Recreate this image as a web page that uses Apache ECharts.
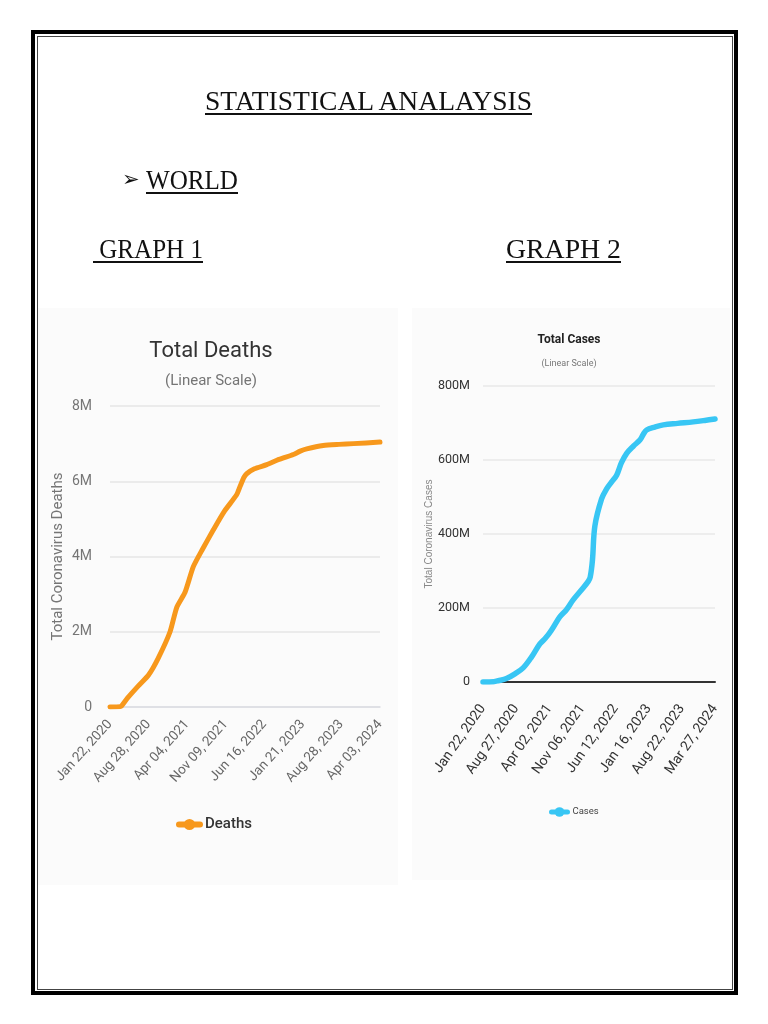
<!DOCTYPE html>
<html>
<head>
<meta charset="utf-8">
<script src="https://cdn.jsdelivr.net/npm/echarts@6/dist/echarts.min.js"></script>
<style>
  html, body { margin:0; padding:0; background:#fff; }
  #page { position:relative; width:768px; height:1024px; overflow:hidden; background:#fff; }
  .frame-outer { position:absolute; left:31px; top:30px; width:699px; height:957px; border:4px solid #000; }
  .frame-inner { position:absolute; left:37px; top:36px; width:694px; height:952px; border:1px solid #444; }
  #chart { position:absolute; left:0; top:0; width:768px; height:1024px; z-index:1; }
  .hd { position:absolute; z-index:2; font-family:'Liberation Serif','DejaVu Serif',serif; color:#111;
        font-size:28px; line-height:32px; white-space:pre; transform-origin:0 50%;
        text-decoration:underline; text-decoration-thickness:1.5px; text-underline-offset:3px; }
  .arrow { position:absolute; z-index:2; font-family:'DejaVu Sans',sans-serif; font-size:21px; line-height:24px; color:#111; }
</style>
</head>
<body>
<div id="page">
  <div class="frame-outer"></div>
  <div class="frame-inner"></div>
  <div id="chart"></div>
  <div class="hd" id="h1" data-w="327" style="left:205px; top:85px;">STATISTICAL ANALAYSIS</div>
  <div class="arrow" style="left:122px; top:167px;">&#x27A2;</div>
  <div class="hd" id="h2" data-w="92" style="left:146px; top:164px;">WORLD</div>
  <div class="hd" id="h3" data-w="110" style="left:93px; top:233px;"> GRAPH 1</div>
  <div class="hd" id="h4" data-w="115" style="left:506px; top:233px;">GRAPH 2</div>
</div>
<script>
// ---------- DATA ----------
const startDate = '2020-01-22';

// Graph 1: Total deaths (millions)
const deathDates = ['2020-01-22','2020-03-20','2020-03-28','2020-05-01','2020-07-01','2020-08-28','2020-10-22','2020-12-28',
  '2021-02-04','2021-03-23','2021-05-09','2021-07-01','2021-08-31','2021-11-01','2022-01-10','2022-01-31','2022-02-20',
  '2022-03-08','2022-04-21','2022-06-30','2022-09-08','2022-11-28','2023-01-06','2023-02-12','2023-05-17','2023-08-14',
  '2023-11-04','2024-04-03'];
const deathValues = [0, 0.01, 0.03, 0.24, 0.56, 0.85, 1.30, 2.00,
  2.65, 3.05, 3.73, 4.20, 4.71, 5.20, 5.64, 5.88, 6.10,
  6.20, 6.33, 6.44, 6.58, 6.71, 6.80, 6.86, 6.95, 6.98,
  7.00, 7.04];
const deathTicks = ['Jan 22, 2020','Aug 28, 2020','Apr 04, 2021','Nov 09, 2021','Jun 16, 2022','Jan 21, 2023','Aug 28, 2023','Apr 03, 2024'];

// Graph 2: Total cases (millions)
const caseDates = ['2020-01-22','2020-04-01','2020-05-01','2020-06-24','2020-08-19','2020-10-12','2020-12-07','2021-01-30',
  '2021-03-07','2021-04-16','2021-06-10','2021-07-25','2021-09-06','2021-11-02','2021-12-14','2021-12-27','2022-01-11',
  '2022-01-27','2022-03-12','2022-04-14','2022-05-16','2022-06-19','2022-07-20','2022-08-24','2022-10-08','2022-11-19',
  '2022-12-12','2023-01-02','2023-02-25','2023-04-22','2023-07-25','2023-11-05','2024-01-20','2024-03-27'];
const caseValues = [0.001, 0.9, 3.4, 9.3, 22, 38, 68, 103,
  118, 140, 176, 196, 222, 250, 272, 283, 330,
  422, 495, 522, 540, 559, 592, 618, 638, 654,
  670, 681, 689, 695, 699, 703, 707, 711];
const caseTicks = ['Jan 22, 2020','Aug 27, 2020','Apr 02, 2021','Nov 06, 2021','Jun 12, 2022','Jan 16, 2023','Aug 22, 2023','Mar 27, 2024'];

const deathYTicks = [0, 2, 4, 6, 8];
const caseYTicks = [0, 200, 400, 600, 800];

// ---------- HELPERS ----------
const DAY = 86400000;
const dayOf = d => Math.round((Date.parse(d) - Date.parse(startDate)) / DAY);
const deathTickStep = dayOf('2020-08-28');
const caseTickStep = dayOf('2020-08-27');
const deathData = deathDates.map((d, i) => [dayOf(d), deathValues[i]]);
const caseData = caseDates.map((d, i) => [dayOf(d), caseValues[i]]);

const F1 = 'Roboto, sans-serif';
const F2 = 'Roboto, sans-serif';
const ORANGE = '#f7981c';
const BLUE = '#38c6f4';

const chart = echarts.init(document.getElementById('chart'), null, { renderer: 'canvas' });
chart.setOption({
  animation: false,
  graphic: [
    { type: 'rect', z: -10, silent: true, shape: { x: 38, y: 308, width: 360, height: 577 }, style: { fill: '#fbfbfb' } },
    { type: 'rect', z: -10, silent: true, shape: { x: 412, y: 308, width: 318, height: 572 }, style: { fill: '#fbfbfb' } }
  ],
  title: [
    { text: 'Total Deaths', left: 211, top: 340, textAlign: 'center', padding: 0,
      textStyle: { fontFamily: F1, fontSize: 22, fontWeight: 'normal', color: '#333' } },
    { text: '(Linear Scale)', left: 211, top: 374, textAlign: 'center', padding: 0,
      textStyle: { fontFamily: F1, fontSize: 15, fontWeight: 'normal', color: '#757575' } },
    { text: 'Total Cases', left: 569, top: 334, textAlign: 'center', padding: 0,
      textStyle: { fontFamily: F2, fontSize: 12, fontWeight: 'bold', color: '#222' } },
    { text: '(Linear Scale)', left: 569, top: 359, textAlign: 'center', padding: 0,
      textStyle: { fontFamily: F2, fontSize: 9, fontWeight: 'normal', color: '#777' } }
  ],
  legend: [
    { data: ['Deaths'], left: 176, top: 817, padding: 0, itemWidth: 21, itemHeight: 14, itemGap: 6,
      lineStyle: { width: 6 },
      textStyle: { fontFamily: F1, fontSize: 15, fontWeight: 500, color: '#333' } },
    { data: ['Cases'], left: 549, top: 807, padding: 0, itemWidth: 16, itemHeight: 12, itemGap: 4,
      lineStyle: { width: 5 },
      textStyle: { fontFamily: F2, fontSize: 9.5, color: '#444' } }
  ],
  grid: [
    { left: 110, top: 406, width: 270, height: 301 },
    { left: 483, top: 386, width: 232, height: 296 }
  ],
  xAxis: [
    { gridIndex: 0, type: 'value', min: 0, max: deathTickStep * (deathTicks.length - 1), interval: deathTickStep,
      axisLine: { show: true, lineStyle: { color: '#dcdde4', width: 1.5 } }, axisTick: { show: false }, splitLine: { show: false },
      axisLabel: { rotate: 48, margin: 15, fontFamily: F1, fontSize: 13.5, color: '#666',
        formatter: v => deathTicks[Math.round(v / deathTickStep)] || '' } },
    { gridIndex: 1, type: 'value', min: 0, max: caseTickStep * (caseTicks.length - 1), interval: caseTickStep,
      axisLine: { show: true, lineStyle: { color: '#333', width: 2 } }, axisTick: { show: false }, splitLine: { show: false },
      axisLabel: { rotate: 55, margin: 24, fontFamily: F2, fontSize: 14, color: '#333',
        formatter: v => caseTicks[Math.round(v / caseTickStep)] || '' } }
  ],
  yAxis: [
    { gridIndex: 0, type: 'value', min: deathYTicks[0], max: deathYTicks[deathYTicks.length - 1], interval: deathYTicks[1] - deathYTicks[0],
      name: 'Total Coronavirus Deaths', nameLocation: 'middle', nameGap: 44, nameRotate: 90,
      nameTextStyle: { fontFamily: F1, fontSize: 15, color: '#757575' },
      axisLine: { show: false }, axisTick: { show: false },
      splitLine: { lineStyle: { color: '#e6e6e6', width: 1.5 } },
      axisLabel: { margin: 18, fontFamily: F1, fontSize: 14, color: '#757575', formatter: v => v === 0 ? '0' : v + 'M' } },
    { gridIndex: 1, type: 'value', min: caseYTicks[0], max: caseYTicks[caseYTicks.length - 1], interval: caseYTicks[1] - caseYTicks[0],
      name: 'Total Coronavirus Cases', nameLocation: 'middle', nameGap: 49, nameRotate: 90,
      nameTextStyle: { fontFamily: 'Liberation Sans, Arial, sans-serif', fontSize: 10, color: '#888' },
      axisLine: { show: false }, axisTick: { show: false },
      splitLine: { lineStyle: { color: '#e8e8e8', width: 1.5 } },
      axisLabel: { margin: 13, fontFamily: F2, fontSize: 12.5, color: '#333', formatter: v => v === 0 ? '0' : v + 'M' } }
  ],
  series: [
    { name: 'Deaths', type: 'line', xAxisIndex: 0, yAxisIndex: 0, data: deathData,
      smooth: 0.2, showSymbol: false, symbol: 'circle', symbolSize: 10,
      itemStyle: { color: ORANGE }, lineStyle: { color: ORANGE, width: 5, cap: 'round', join: 'round' } },
    { name: 'Cases', type: 'line', xAxisIndex: 1, yAxisIndex: 1, data: caseData,
      smooth: 0.35, showSymbol: false, symbol: 'circle', symbolSize: 10,
      itemStyle: { color: BLUE }, lineStyle: { color: BLUE, width: 5.5, cap: 'round', join: 'round' } }
  ]
});

// fit heading widths to the reference
document.querySelectorAll('.hd').forEach(el => {
  const w = el.getBoundingClientRect().width;
  const target = parseFloat(el.dataset.w);
  el.style.transform = 'scaleX(' + (target / w) + ')';
});
</script>
</body>
</html>
